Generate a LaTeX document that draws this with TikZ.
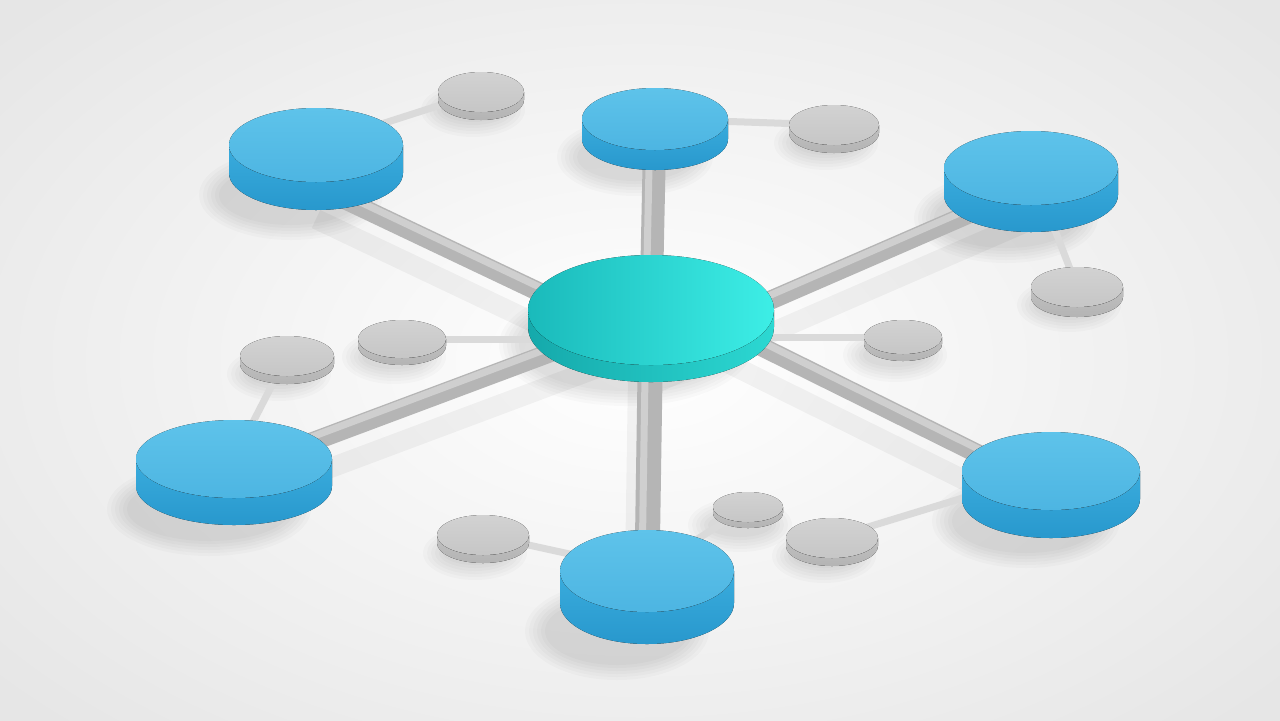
\documentclass[tikz,border=0pt]{standalone}
\usepackage{tikz}
\usetikzlibrary{calc}

\definecolor{bgedge}{HTML}{E6E6E6}
\definecolor{rodgray}{HTML}{B5B5B5}
\definecolor{rodlight}{HTML}{CFCFCF}
\definecolor{linkgray}{HTML}{DADADA}
\definecolor{bluetopA}{HTML}{5EC3EA}
\definecolor{bluetopB}{HTML}{4DB5E2}
\definecolor{bluesideA}{HTML}{3AACDD}
\definecolor{bluesideB}{HTML}{2898CD}
\definecolor{graytopA}{HTML}{D2D2D2}
\definecolor{graytopB}{HTML}{C6C6C6}
\definecolor{graysideA}{HTML}{C0C0C0}
\definecolor{graysideB}{HTML}{B4B4B4}
\definecolor{hubtopA}{HTML}{1ABABB}
\definecolor{hubtopB}{HTML}{3DEEE6}
\definecolor{hubsideA}{HTML}{15A9AB}
\definecolor{hubsideB}{HTML}{2CD8D2}

\tikzset{
  rod/.style={line width=0.19cm, draw=rodgray},
  rodhi/.style={line width=0.07cm, draw=rodlight},
  rodshadow/.style={line width=0.2cm, draw=black, opacity=0.045},
  link/.style={line width=0.07cm, draw=linkgray},
  bluetop/.style={top color=bluetopA, bottom color=bluetopB},
  blueside/.style={top color=bluesideA, bottom color=bluesideB},
  graytop/.style={top color=graytopA, bottom color=graytopB},
  grayside/.style={top color=graysideA, bottom color=graysideB},
  hubtop/.style={left color=hubtopA, right color=hubtopB},
  hubside/.style={left color=hubsideA, right color=hubsideB}
}

% disc: name, x radius, y radius, depth, kind
\newcommand{\disc}[5]{%
  \fill[#5side] ($(#1)+(-#2,0)$) -- ++(0,-#4)
    arc[start angle=180, end angle=360, x radius=#2, y radius=#3] -- ++(0,#4)
    arc[start angle=0, end angle=-180, x radius=#2, y radius=#3] -- cycle;
  \fill[#5top] (#1) ellipse[x radius=#2, y radius=#3];
}
% soft shadow: name, x radius, y radius, dx, dy
\newcommand{\softshadow}[5]{%
  \foreach \k in {0,...,5}{
    \pgfmathsetmacro\srx{#2+4*\k-8}
    \pgfmathsetmacro\sry{#3+3*\k-6}
    \fill[black, opacity=0.02] ($(#1)+(#4,#5)$) ellipse[x radius=\srx, y radius=\sry];
  }
}

\begin{document}
\begin{tikzpicture}[x=0.01cm, y=0.01cm]
\useasboundingbox (0,0) rectangle (1280,720);
\shade[inner color=white, outer color=bgedge] (-200,-150) rectangle (1480,870);

% positions
\coordinate (hub) at (651,410);
\coordinate (tl) at (316,575);
\coordinate (tm) at (655,601);
\coordinate (tr) at (1031,552);
\coordinate (ml) at (234,261);
\coordinate (bm) at (647,149);
\coordinate (mr) at (1051,249);
\coordinate (a) at (481,628);
\coordinate (b) at (834,595);
\coordinate (c) at (1077,433);
\coordinate (d) at (903,383);
\coordinate (e) at (402,381);
\coordinate (f) at (287,364);
\coordinate (g) at (483,185);
\coordinate (h) at (748,213);
\coordinate (i) at (832,182);

% rod ends
\coordinate (hub tl) at ($(hub)+(0,-35)$);
\coordinate (hub tr) at ($(hub)+(0,-42)$);
\coordinate (hub ml) at ($(hub)+(0,-5)$);
\coordinate (hub mr) at ($(hub)+(0,18)$);
\coordinate (tl end) at ($(tl)+(0,-41)$);
\coordinate (tr end) at ($(tr)+(0,-19)$);
\coordinate (ml end) at ($(ml)+(0,-12)$);
\coordinate (mr end) at ($(mr)+(0,-19)$);

% shadows
\softshadow{tl}{80}{36}{-25}{-50}
\softshadow{tm}{66}{30}{-20}{-38}
\softshadow{tr}{80}{36}{-25}{-50}
\softshadow{ml}{90}{38}{-25}{-50}
\softshadow{bm}{80}{40}{-30}{-60}
\softshadow{mr}{82}{38}{-25}{-50}
\softshadow{hub}{115}{52}{-25}{-35}
\foreach \n in {a,b,c,d,e,f,g,h,i}{
  \softshadow{\n}{40}{18}{-8}{-18}
}

\begin{scope}[transform canvas={yshift=-0.33cm}]
  \draw[rodshadow] (hub tl) -- (tl end);
  \draw[rodshadow] (hub tr) -- (tr end);
  \draw[rodshadow] (hub ml) -- (ml end);
  \draw[rodshadow] (hub mr) -- (mr end);
\end{scope}
\draw[rodshadow, transform canvas={xshift=-0.12cm}] (hub) -- (bm);

% thin links
\draw[link] (tl) -- (a);
\draw[link] (tm) -- (b);
\draw[link] (tr) -- (c);
\draw[link] (hub |- d) -- (d);
\draw[link] (hub |- e) -- (e);
\draw[link] (ml) -- (f);
\draw[link] (bm) -- (g);
\draw[link] (bm) -- (h);
\draw[link] (mr) -- (i);

% rods
\draw[rod] (hub tl) -- (tl end);
\draw[rod] (hub tr) -- (tr end);
\draw[rod] (hub ml) -- (ml end);
\draw[rod] (hub mr) -- (mr end);
\draw[rod, line width=0.23cm] (hub) -- (tm);
\draw[rod, line width=0.25cm] (hub) -- (bm);
\begin{scope}[transform canvas={yshift=0.05cm}]
  \draw[rodhi] (hub tl) -- (tl end);
  \draw[rodhi] (hub tr) -- (tr end);
  \draw[rodhi] (hub ml) -- (ml end);
  \draw[rodhi] (hub mr) -- (mr end);
\end{scope}
\begin{scope}[transform canvas={xshift=-0.05cm}]
  \draw[rodhi] (hub) -- (tm);
  \draw[rodhi] (hub) -- (bm);
\end{scope}

% discs, back to front
\disc{a}{43}{20}{8}{gray}
\disc{tm}{73}{31}{20}{blue}
\disc{b}{45}{20}{8}{gray}
\disc{tl}{87}{37}{28}{blue}
\disc{tr}{87}{37}{27}{blue}
\disc{c}{46}{20}{10}{gray}
\disc{hub}{123}{55}{17}{hub}
\disc{d}{39}{17}{7}{gray}
\disc{e}{44}{19}{7}{gray}
\disc{f}{47}{20}{8}{gray}
\disc{ml}{98}{39}{27}{blue}
\disc{mr}{89}{39}{28}{blue}
\disc{h}{35}{15}{6}{gray}
\disc{g}{46}{20}{8}{gray}
\disc{i}{46}{20}{8}{gray}
\disc{bm}{87}{41}{32}{blue}
\end{tikzpicture}
\end{document}
